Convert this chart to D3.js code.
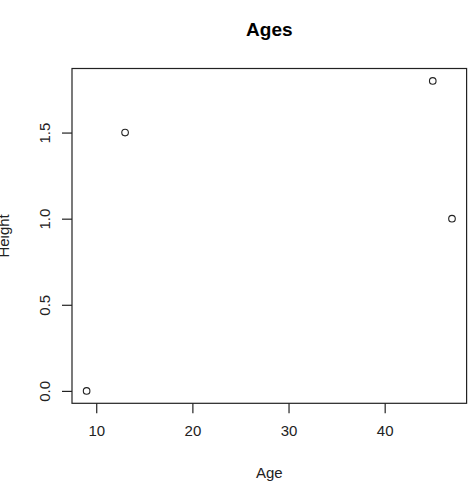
<!DOCTYPE html>
<html><head><meta charset="utf-8">
<script src="https://cdn.jsdelivr.net/npm/d3@7"></script>
<style>html,body{margin:0;padding:0;background:#fff;}</style>
</head><body>
<script>
const ages = [9, 13, 45, 47];
const heights = [0, 1.5, 1.8, 1.0];
const xTicks = [10, 20, 30, 40];
const yTicks = [0, 0.5, 1.0, 1.5];
const title = "Ages", xLabel = "Age", yLabel = "Height";

const W = 474, H = 493;
const L = 72, R = 466.6, T = 68.5, B = 403.3;
const svg = d3.select("body").append("svg").attr("width", W).attr("height", H);
const font = "Liberation Sans, Arial, sans-serif";
const col = "#222";

const xr = d3.extent(ages), yr = d3.extent(heights);
const xp = (xr[1]-xr[0])*0.04, yp = (yr[1]-yr[0])*0.04;
const x = d3.scaleLinear().domain([xr[0]-xp, xr[1]+xp]).range([L, R]);
const y = d3.scaleLinear().domain([yr[0]-yp, yr[1]+yp]).range([B, T]);

svg.append("rect").attr("x", L).attr("y", T).attr("width", R-L).attr("height", B-T)
  .attr("fill", "none").attr("stroke", col).attr("stroke-width", 1.2);

const xa = svg.append("g").attr("transform", `translate(0,${B})`)
  .call(d3.axisBottom(x).tickValues(xTicks).tickSize(10).tickPadding(12).tickFormat(d3.format("d")));
xa.select(".domain").remove();
xa.selectAll("line").attr("stroke", col).attr("stroke-width", 1.2);
xa.selectAll("text").attr("font-family", font).attr("font-size", 15).attr("fill", col);

const ya = svg.append("g").attr("transform", `translate(${L},0)`)
  .call(d3.axisLeft(y).tickValues(yTicks).tickSize(10).tickFormat(d3.format(".1f")));
ya.select(".domain").remove();
ya.selectAll("line").attr("stroke", col).attr("stroke-width", 1.2);
ya.selectAll("text").attr("font-family", font).attr("font-size", 15).attr("fill", col)
  .attr("x", null).attr("dy", null)
  .attr("text-anchor", "middle")
  .attr("transform", "translate(-22,0) rotate(-90)");

svg.append("g").selectAll("circle").data(ages).join("circle")
  .attr("cx", (d) => x(d)).attr("cy", (d, i) => y(heights[i])).attr("r", 3.3)
  .attr("fill", "none").attr("stroke", col).attr("stroke-width", 1.1);

svg.append("text").attr("x", (L+R)/2).attr("y", 36).attr("text-anchor", "middle")
  .attr("font-family", font).attr("font-weight", "bold").attr("font-size", 19).attr("fill", "#000").text(title);
svg.append("text").attr("x", (L+R)/2).attr("y", 478).attr("text-anchor", "middle")
  .attr("font-family", font).attr("font-size", 15).attr("fill", col).text(xLabel);
svg.append("text").attr("transform", `translate(9,${(T+B)/2}) rotate(-90)`).attr("text-anchor", "middle")
  .attr("font-family", font).attr("font-size", 15).attr("fill", col).text(yLabel);
</script>
</body></html>
